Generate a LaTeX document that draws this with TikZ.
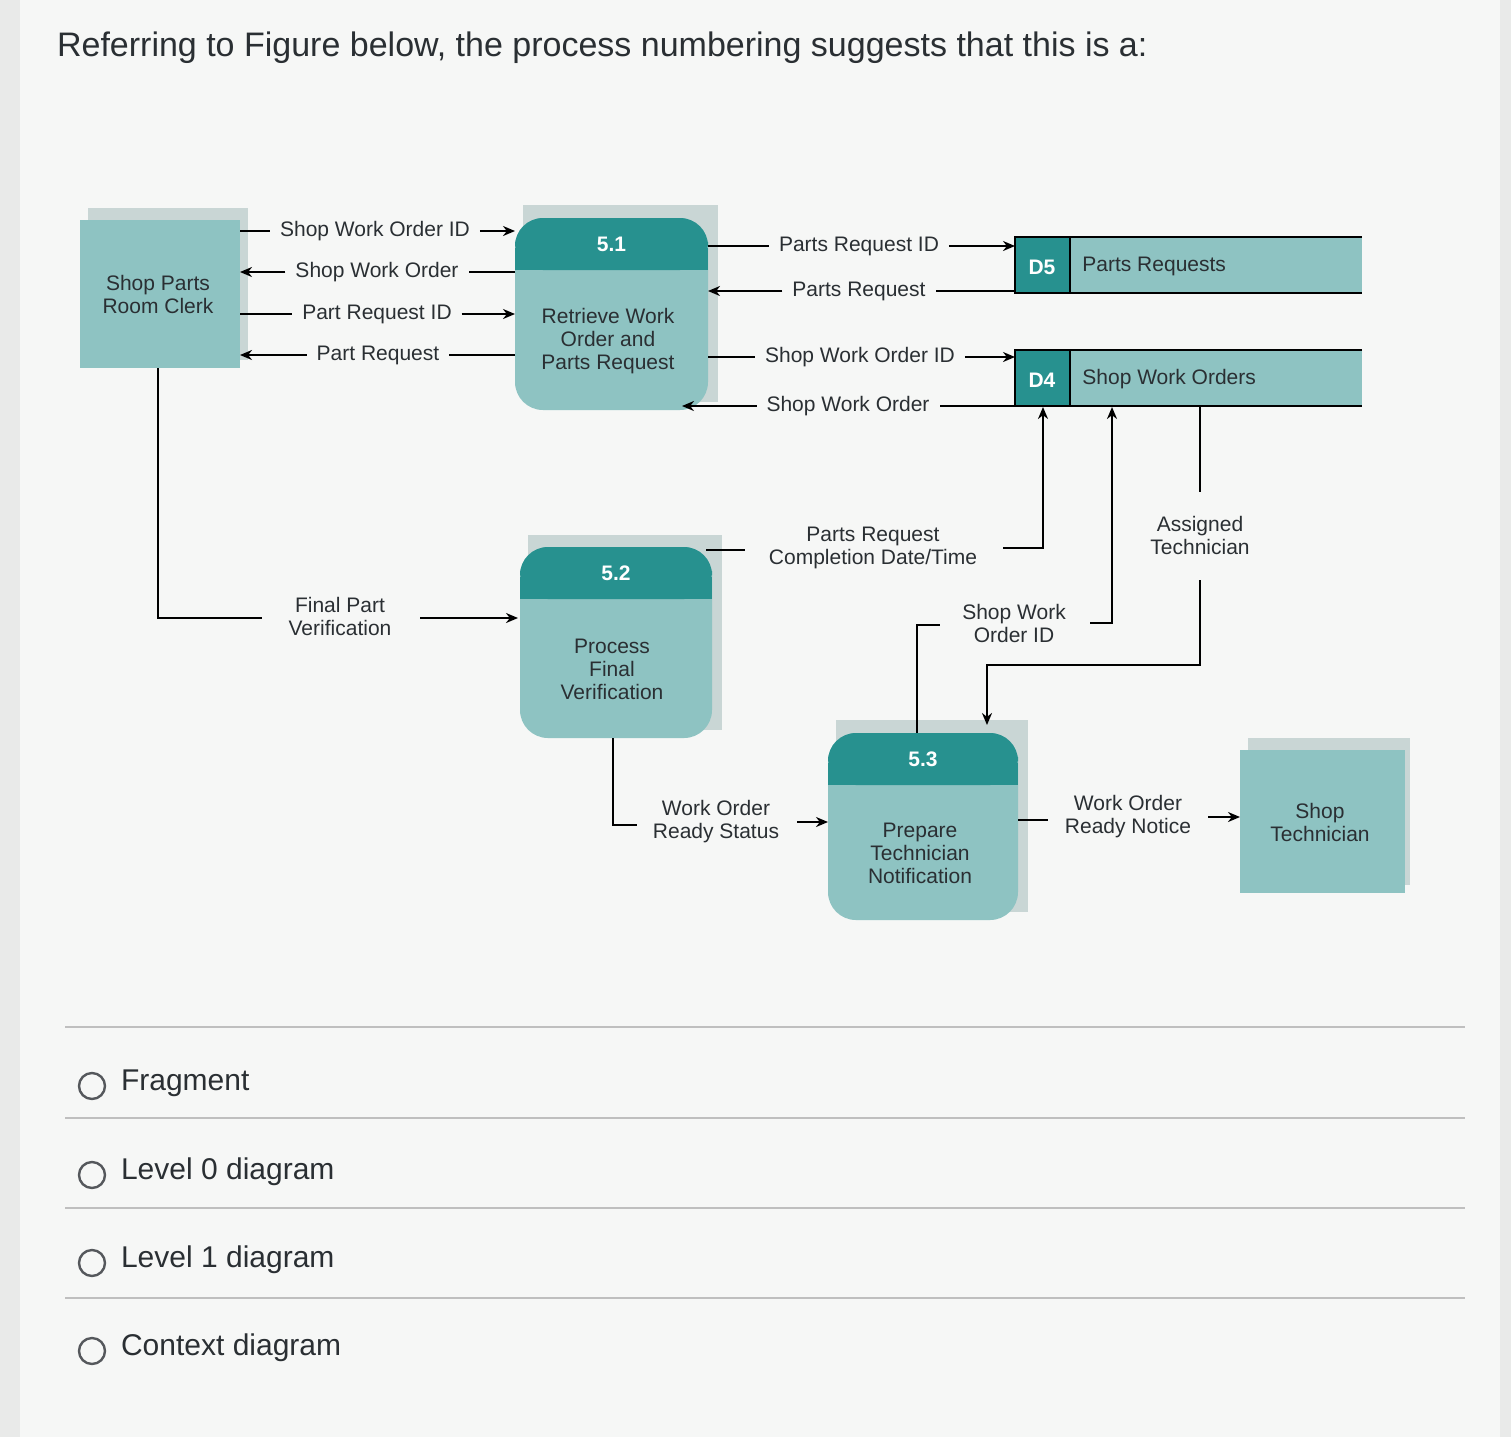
\documentclass[tikz,border=0pt]{standalone}
\usepackage{fontspec}
\setmainfont{Liberation Sans}
\usetikzlibrary{arrows.meta}
\definecolor{bg}{HTML}{E9EAE9}
\definecolor{lt}{HTML}{8EC3C2}
\definecolor{dk}{HTML}{27918F}
\definecolor{sh}{HTML}{C9D6D5}
\definecolor{txt}{HTML}{2A2F33}
\begin{document}
\begin{tikzpicture}[x=0.5pt,y=-0.5pt,
 lbl/.style={font=\fontsize{10.5}{11.5}\selectfont,text=txt,align=center,inner sep=1pt},
 gap/.style={outer sep=4pt},
 flow/.style={draw=black,line width=1.1pt},
 arr/.style={flow,-{Stealth[length=6pt,width=5pt]}},
 ent/.style={fill=lt,draw=none},
 opt/.style={font=\fontsize{15}{16}\selectfont,text=txt,anchor=west}]
\useasboundingbox (0,0) rectangle (1511,1437);
\fill[bg] (0,0) rectangle (1511,1437);
\fill[white!60!bg] (20,0) rectangle (1500,1437);
\node[anchor=west,font=\fontsize{17}{18}\selectfont,text=txt] (title) at (50,48) {Referring to Figure below, the process numbering suggests that this is a:};
% shadows
\foreach \a/\b/\c/\d in {80/208/248/368, 515/205/718/410, 520/535/722/738, 828/720/1028/920, 1240/738/1410/893}
 \fill[sh] (\a+8,\b) rectangle (\c,\d-8);
% entities
\fill[ent] (80,220) rectangle (240,368);
\node[lbl] (clerk) at (158,294) {Shop Parts\\Room Clerk};
\coordinate (clerkb) at (158,368);
\fill[ent] (1240,750) rectangle (1405,893);
\node[lbl] (tech) at (1320,822) {Shop\\Technician};
% processes
\foreach \n/\x/\y/\w/\h/\t in {p1/515/218/193/192/5.1, p2/520/547/192/191/5.2, p3/828/733/190/187/5.3}{
 \fill[lt,rounded corners=14pt] (\x,\y) rectangle (\x+\w,\y+\h);
 \fill[dk,rounded corners=14pt] (\x,\y) rectangle (\x+\w,\y+52);
 \fill[dk] (\x,\y+30) rectangle (\x+\w,\y+52);
 \node[lbl,text=white,font=\bfseries\fontsize{10.5}{11.5}\selectfont] at (\x+\w/2,\y+26) {\t};
}
\node[lbl] (t1) at (608,341) {Retrieve Work\\Order and\\Parts Request};
\node[lbl] (t2) at (612,669) {Process\\Final\\Verification};
\node[lbl] (t3) at (920,853) {Prepare\\Technician\\Notification};
% data stores
\foreach \y/\id/\t in {237/D5/Parts Requests, 350/D4/Shop Work Orders}{
 \fill[lt] (1015,\y) rectangle (1362,\y+56);
 \fill[dk] (1015,\y) rectangle (1070,\y+56);
 \draw[line width=1.2pt] (1362,\y) -- (1015,\y) -- (1015,\y+56) -- (1362,\y+56);
 \draw[line width=1pt] (1070,\y) -- (1070,\y+56);
 \node[lbl,text=white,font=\bfseries\fontsize{10.5}{11.5}\selectfont] at (1042,\y+30) {\id};
 \node[lbl,anchor=west] at (1080,\y+29) {\t};
}
% clerk <-> 5.1
\node[lbl,gap] (f1) at (375,231) {Shop Work Order ID};
\draw[flow] (240,231) -- (f1.west); \draw[arr] (f1.east) -- (515,231);
\node[lbl,gap] (f2) at (377,272) {Shop Work Order};
\draw[flow] (515,272) -- (f2.east); \draw[arr] (f2.west) -- (240,272);
\node[lbl,gap] (f3) at (377,314) {Part Request ID};
\draw[flow] (240,314) -- (f3.west); \draw[arr] (f3.east) -- (515,314);
\node[lbl,gap] (f4) at (378,355) {Part Request};
\draw[flow] (515,355) -- (f4.east); \draw[arr] (f4.west) -- (240,355);
% 5.1 <-> stores
\node[lbl,gap] (g1) at (859,246) {Parts Request ID};
\draw[flow] (708,246) -- (g1.west); \draw[arr] (g1.east) -- (1015,246);
\node[lbl,gap] (g2) at (859,291) {Parts Request};
\draw[flow] (1015,291) -- (g2.east); \draw[arr] (g2.west) -- (708,291);
\node[lbl,gap] (g3) at (860,357) {Shop Work Order ID};
\draw[flow] (708,357) -- (g3.west); \draw[arr] (g3.east) -- (1015,357);
\node[lbl,gap] (g4) at (848,406) {Shop Work Order};
\draw[flow] (1015,406) -- (g4.east); \draw[arr] (g4.west) -- (682,406);
% final part verification
\node[lbl] (h1) at (340,616) {Final Part\\Verification};
\draw[flow] (clerkb) -- (158,618) -- (262,618);
\draw[arr] (420,618) -- (518,618);
% completion date
\node[lbl] (h2) at (873,548) {Parts Request\\Completion Date/Time};
\draw[flow] (706,550) -- (745,550);
\draw[arr] (1003,548) -- (1043,548) -- (1043,407);
% shop work order id from 5.3
\node[lbl] (h3) at (1014,623) {Shop Work\\Order ID};
\draw[flow] (917,733) -- (917,625) -- (940,625);
\draw[arr] (1090,623) -- (1112,623) -- (1112,407);
% assigned technician
\node[lbl] (h4) at (1200,535) {Assigned\\Technician};
\draw[flow] (1200,407) -- (1200,492);
\draw[arr] (1200,580) -- (1200,665) -- (987,665) -- (987,725);
% work order ready status
\node[lbl] (h5) at (716,822) {Work Order\\Ready Status};
\draw[flow] (613,738) -- (613,825) -- (637,825);
\draw[arr] (797,822) -- (828,822);
% ready notice
\node[lbl] (h6) at (1128,817) {Work Order\\Ready Notice};
\draw[flow] (1018,820) -- (1048,820);
\draw[arr] (1208,817) -- (1240,817);
% options
\foreach \y in {1027,1118,1208,1298} \draw[gray!50,line width=0.8pt] (65,\y) -- (1465,\y);
\foreach \y/\t in {1086/Fragment,1175/Level 0 diagram,1263/Level 1 diagram,1351/Context diagram}{
 \draw[txt!80,line width=1.2pt] (92,\y) circle[radius=13];
 \node[opt] at (114,\y-3) {\t};
}
\end{tikzpicture}
\end{document}
